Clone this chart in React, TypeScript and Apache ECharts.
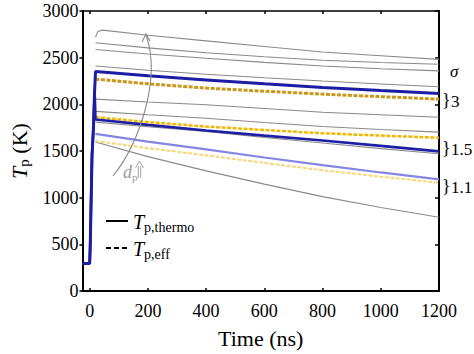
import React, { useEffect, useRef } from "react";
import * as echarts from "echarts";

const FONT = "'Liberation Serif', 'Times New Roman', serif";

// time samples (ns)
const times = [20, 200, 400, 600, 800, 1000, 1200];
const topTimes = [20, 28, 45, 200, 400, 600, 800, 1000, 1200];

// rise of the particle temperature (shared by the coloured curves)
const riseTimes = [-25, 0, 2, 8, 13, 17];
const riseValues = [295, 295, 500, 1450, 1750, 2150];

// grey reference curves (K)
const gray1 = [2720, 2780, 2795, 2740, 2680, 2620, 2560, 2520, 2482];
const gray2 = [2660, 2605, 2553, 2510, 2472, 2448, 2429];
const gray3 = [2588, 2540, 2493, 2450, 2410, 2382, 2358];
const gray4 = [2410, 2365, 2323, 2285, 2250, 2218, 2188];
const gray5 = [2056, 2025, 1996, 1955, 1915, 1888, 1862];
const gray6 = [1925, 1888, 1851, 1805, 1762, 1730, 1702];
const gray7 = [1809, 1760, 1710, 1645, 1585, 1525, 1471];
const gray8 = [1596, 1440, 1287, 1145, 1011, 895, 790];

// sigma = 3
const thermo3 = [2351, 2305, 2262, 2220, 2181, 2148, 2117];
const eff3 = [2270, 2220, 2174, 2140, 2110, 2082, 2056];
// sigma = 1.5
const thermo15 = [1837, 1780, 1720, 1665, 1613, 1555, 1496];
const eff15 = [1862, 1810, 1762, 1725, 1690, 1665, 1642];
// sigma = 1.1
const thermo11 = [1684, 1600, 1518, 1430, 1348, 1270, 1195];
const eff11 = [1606, 1530, 1454, 1372, 1294, 1225, 1160];

const yTicks = [0, 500, 1000, 1500, 2000, 2500, 3000];
const sigmaLabels = ["3", "1.5", "1.1"];

const pts = (ts: number[], vs: number[]) => ts.map((t, i) => [t, vs[i]]);
const withRise = (vs: number[]) =>
  riseTimes.map((t, i) => [t, riseValues[i]]).concat(pts(times, vs));

export default function App() {
  const ref = useRef<HTMLDivElement>(null);
  useEffect(() => {
    if (!ref.current) return;
    const chart = echarts.init(ref.current, null, { renderer: "svg" });

    const grayStyle = { color: "#8a8a8a", width: 1.1 };
    const graySeries: any[] = [gray2, gray3, gray4, gray5, gray6, gray7, gray8].map((g, i) => ({
      type: "line",
      name: "gray" + (i + 2),
      data: pts(times, g),
      showSymbol: false,
      lineStyle: grayStyle,
      z: 2,
    }));
    graySeries.unshift({
      type: "line",
      name: "gray1",
      data: pts(topTimes, gray1),
      showSymbol: false,
      lineStyle: grayStyle,
      z: 2,
    });

    const line = (name: string, data: number[][], color: string, width: number, dashed: boolean, z: number) => ({
      type: "line",
      name,
      data,
      showSymbol: false,
      lineStyle: { color, width, type: dashed ? [4, 1.5] : "solid" },
      z,
    });

    const axisLabelFont = { fontFamily: FONT, fontSize: 18, color: "#000", fontWeight: "normal" };
    const arrowGray = "#9a9a9a";

    chart.setOption({
      animation: false,
      textStyle: { fontFamily: FONT },
      grid: { left: 74, right: 35, top: 11, bottom: 59 },
      xAxis: [
        {
          type: "value",
          min: -25,
          max: 1200,
          splitNumber: 6,
          minInterval: 200,
          maxInterval: 200,
          name: "Time (ns)",
          nameLocation: "middle",
          nameGap: 36,
          nameTextStyle: { fontFamily: FONT, fontSize: 22, color: "#000", fontWeight: "normal" },
          axisLine: { onZero: false, lineStyle: { color: "#000", width: 2 } },
          axisTick: { inside: true, length: 3, lineStyle: { color: "#000", width: 1.5 } },
          axisLabel: { ...axisLabelFont, margin: 11, showMinLabel: false, formatter: (v: number) => String(v) },
          splitLine: { show: false },
        },
        {
          type: "value",
          position: "top",
          min: -25,
          max: 1200,
          splitNumber: 6,
          minInterval: 200,
          maxInterval: 200,
          axisLine: { onZero: false, lineStyle: { color: "#000", width: 1.5 } },
          axisTick: { inside: true, length: 3, lineStyle: { color: "#000", width: 1.5 } },
          axisLabel: { show: false },
          splitLine: { show: false },
        },
      ],
      yAxis: [
        {
          type: "value",
          min: 0,
          max: 3000,
          interval: 500,
          name: "{i|T}{s|p}{n| (K)}",
          nameLocation: "middle",
          nameGap: 49,
          nameTextStyle: {
            fontFamily: FONT,
            color: "#000",
            rich: {
              i: { fontFamily: FONT, fontSize: 22, fontStyle: "italic", color: "#000" },
              s: { fontFamily: FONT, fontSize: 15, color: "#000", padding: [10, 0, 0, 0] },
              n: { fontFamily: FONT, fontSize: 22, color: "#000" },
            },
          },
          axisLine: { onZero: false, lineStyle: { color: "#000", width: 2 } },
          axisTick: { inside: false, length: 3, lineStyle: { color: "#000", width: 1.5 } },
          axisLabel: { ...axisLabelFont, margin: 4, formatter: (v: number) => (yTicks.includes(v) ? String(v) : "") },
          splitLine: { show: false },
        },
        {
          type: "value",
          position: "right",
          min: 0,
          max: 3000,
          interval: 500,
          axisLine: { onZero: false, lineStyle: { color: "#000", width: 2 } },
          axisTick: { inside: true, length: 4, lineStyle: { color: "#000", width: 1.5 } },
          axisLabel: { show: false },
          splitLine: { show: false },
        },
      ],
      series: [
        ...graySeries,
        line("eff11", pts(times, eff11), "#f7d77a", 2, true, 3),
        line("thermo11", pts(times, thermo11), "#8585e4", 2.2, false, 3),
        line("eff15", pts(times, eff15), "#f2b705", 2.5, true, 4),
        line("thermo15", withRise(thermo15), "#1f1fa6", 2.6, false, 4),
        line("eff3", pts(times, eff3), "#c9971c", 3, true, 5),
        line("thermo3", withRise(thermo3), "#1c1ca4", 3, false, 6),
      ],
      graphic: [
        // d_p arrow
        {
          type: "bezierCurve",
          shape: { x1: 113, y1: 176, cpx1: 138, cpy1: 145, cpx2: 162, cpy2: 80, x2: 146, y2: 35 },
          style: { stroke: "#8a8a8a", lineWidth: 1.1, fill: "none" },
          z: 10,
        },
        {
          type: "polyline",
          shape: { points: [[142, 42], [146, 34], [150, 41]] },
          style: { stroke: "#8a8a8a", lineWidth: 1.1, fill: "none" },
          z: 10,
        },
        {
          type: "text",
          x: 123,
          y: 172,
          style: {
            text: "{i|d}{s|p}",
            verticalAlign: "middle",
            rich: {
              i: { fontFamily: FONT, fontSize: 18, fontStyle: "italic", fill: arrowGray },
              s: { fontFamily: FONT, fontSize: 11, fill: arrowGray, padding: [9, 0, 0, 0] },
            },
          },
          z: 10,
        },
        {
          type: "line",
          shape: { x1: 138.3, y1: 166, x2: 138.3, y2: 178 },
          style: { stroke: arrowGray, lineWidth: 0.9 },
          z: 10,
        },
        {
          type: "line",
          shape: { x1: 140.7, y1: 166, x2: 140.7, y2: 178 },
          style: { stroke: arrowGray, lineWidth: 0.9 },
          z: 10,
        },
        {
          type: "polyline",
          shape: { points: [[135.5, 168], [139.5, 161], [143.5, 168]] },
          style: { stroke: arrowGray, lineWidth: 0.9, fill: "none" },
          z: 10,
        },
        // legend
        {
          type: "line",
          shape: { x1: 106, y1: 221, x2: 128, y2: 221 },
          style: { stroke: "#000", lineWidth: 2 },
        },
        {
          type: "line",
          shape: { x1: 106, y1: 248, x2: 128, y2: 248 },
          style: { stroke: "#000", lineWidth: 2, lineDash: [5, 3] },
        },
        {
          type: "text",
          x: 133,
          y: 222,
          style: {
            text: "{i|T}{s|p,thermo}",
            verticalAlign: "middle",
            rich: {
              i: { fontFamily: FONT, fontSize: 20, fontStyle: "italic", fill: "#000" },
              s: { fontFamily: FONT, fontSize: 14, fill: "#000", padding: [10, 0, 0, 0] },
            },
          },
        },
        {
          type: "text",
          x: 133,
          y: 249,
          style: {
            text: "{i|T}{s|p,eff}",
            verticalAlign: "middle",
            rich: {
              i: { fontFamily: FONT, fontSize: 20, fontStyle: "italic", fill: "#000" },
              s: { fontFamily: FONT, fontSize: 14, fill: "#000", padding: [10, 0, 0, 0] },
            },
          },
        },
        // sigma annotations
        {
          type: "text",
          x: 450,
          y: 71,
          style: { text: "σ", fontFamily: FONT, fontSize: 17, fontStyle: "italic", fill: "#000", verticalAlign: "middle" },
        },
        ...[100, 148, 186].flatMap((yy, i) => [
          {
            type: "text",
            x: 442,
            y: yy,
            style: { text: "}", fontFamily: FONT, fontSize: 18, fill: "#000", verticalAlign: "middle" },
          },
          {
            type: "text",
            x: 451,
            y: yy + 1,
            style: { text: sigmaLabels[i], fontFamily: FONT, fontSize: 17, fill: "#000", verticalAlign: "middle" },
          },
        ]),
      ],
    });
    return () => chart.dispose();
  }, []);
  return <div ref={ref} style={{ width: 474, height: 354, position: "absolute", left: 0, top: 0 }} />;
}
